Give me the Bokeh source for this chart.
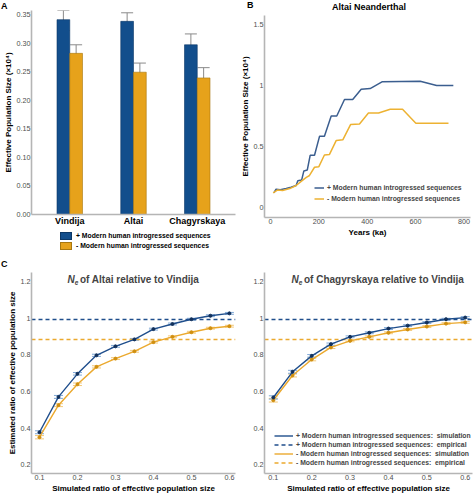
from bokeh.plotting import figure
from bokeh.models import (ColumnDataSource, FactorRange, Range1d, Whisker, TeeHead, Legend,
                          LegendItem, Label, FixedTicker, NumeralTickFormatter, Div)
from bokeh.transform import dodge
from bokeh.layouts import row, column
from bokeh.embed import file_html
from bokeh.resources import INLINE

FONT = "Liberation Sans"
BAR_BLUE = "#124E8C"
BAR_ORANGE = "#E6A21B"
BAR_BLUE_EDGE = "#0b3766"
BAR_ORANGE_EDGE = "#a87710"
LINE_BLUE = "#3B5E8F"
LINE_ORANGE = "#EDB232"
C_BLUE = "#1F4E8C"
C_ORANGE = "#EBA92E"

# ---------------- Panel A data ----------------
populations = ["Vindija", "Altai", "Chagyrskaya"]
ne_with = [0.341, 0.338, 0.297]
ne_with_lo = [0.322, 0.305, 0.277]
ne_with_hi = [0.357, 0.353, 0.316]
ne_without = [0.282, 0.249, 0.239]
ne_without_lo = [0.263, 0.223, 0.220]
ne_without_hi = [0.297, 0.265, 0.257]
label_with = "+ Modern human introgressed sequences"
label_without = "- Modern human introgressed sequences"
a_yticks = [0.0, 0.05, 0.10, 0.15, 0.20, 0.25, 0.30, 0.35]

# ---------------- Panel B data ----------------
title_b = "Altai Neanderthal"
years_with = [14, 23, 40, 65, 85, 106, 113, 129, 138, 152, 164, 182, 203, 223, 251, 274,
              306, 340, 375, 412, 461, 619, 687, 756]
ne_b_with = [0.12, 0.15, 0.145, 0.155, 0.166, 0.18, 0.22, 0.226, 0.30, 0.307, 0.428, 0.428,
             0.585, 0.585, 0.75, 0.75, 0.885, 0.885, 0.97, 0.975, 1.03, 1.035, 1.0, 1.0]
years_without = [11, 30, 50, 80, 106, 127, 148, 160, 182, 200, 223, 244, 272, 299, 331, 368,
                 405, 447, 495, 546, 601, 736]
ne_b_without = [0.12, 0.144, 0.14, 0.155, 0.18, 0.214, 0.247, 0.26, 0.33, 0.335, 0.43, 0.435,
                0.55, 0.555, 0.68, 0.685, 0.775, 0.775, 0.805, 0.805, 0.69, 0.69]
b_xticks = [0, 200, 400, 600, 800]
b_yticks = [0, 0.5, 1, 1.5]

# ---------------- Panel C data ----------------
sim_ratio = [0.1, 0.15, 0.2, 0.25, 0.3, 0.35, 0.4, 0.45, 0.5, 0.55, 0.6]
altai_with = [0.378, 0.571, 0.697, 0.798, 0.847, 0.885, 0.941, 0.969, 0.995, 1.014, 1.027]
altai_with_err = [0.008, 0.008, 0.007, 0.006, 0.005, 0.005, 0.005, 0.005, 0.005, 0.005, 0.005]
altai_without = [0.351, 0.526, 0.640, 0.735, 0.780, 0.820, 0.870, 0.899, 0.924, 0.946, 0.957]
altai_without_err = [0.009, 0.008, 0.007, 0.006, 0.005, 0.005, 0.005, 0.005, 0.005, 0.005, 0.005]
chag_with = [0.568, 0.708, 0.795, 0.859, 0.899, 0.921, 0.944, 0.960, 0.977, 0.995, 1.004]
chag_with_err = [0.009, 0.008, 0.007, 0.006, 0.005, 0.005, 0.005, 0.005, 0.005, 0.005, 0.005]
chag_without = [0.553, 0.688, 0.775, 0.841, 0.877, 0.899, 0.921, 0.939, 0.955, 0.971, 0.978]
chag_without_err = [0.010, 0.008, 0.007, 0.006, 0.005, 0.005, 0.005, 0.005, 0.005, 0.005, 0.005]
empirical_with = 0.991
empirical_without = 0.886
c_xticks = [0.1, 0.2, 0.3, 0.4, 0.5, 0.6]
c_yticks = [0.2, 0.4, 0.6, 0.8, 1.0, 1.2]
c_legend = ["+ Modern human introgressed sequences:  simulation",
            "+ Modern human introgressed sequences:  empirical",
            "- Modern human introgressed sequences:  simulation",
            "- Modern human introgressed sequences:  empirical"]


def style(p):
    p.xgrid.visible = False
    p.ygrid.visible = False
    p.outline_line_color = None
    for ax in p.xaxis + p.yaxis:
        ax.axis_line_color = "#b5b5b5"
        ax.axis_line_width = 1.6
        ax.major_tick_line_color = None
        ax.minor_tick_line_color = None
        ax.major_tick_out = 0
        ax.major_tick_in = 0
        ax.minor_tick_out = 0
        ax.minor_tick_in = 0
        ax.major_label_text_font = FONT
        ax.major_label_text_font_size = "7.2px"
        ax.major_label_text_color = "#4d4d4d"
        ax.major_label_standoff = 1
        ax.axis_label_text_font = FONT
        ax.axis_label_text_font_size = "8px"
        ax.axis_label_text_font_style = "bold"
        ax.axis_label_text_color = "black"
        ax.axis_label_standoff = 1


BASE_CSS = f"position:relative;width:237px;font-family:'{FONT}';color:black;"


def pos_text(t, left, top, size, lh, extra=""):
    return (f"<div style=\"position:absolute;left:{left}px;top:{top}px;font-size:{size}px;"
            f"line-height:{lh}px;font-weight:bold;white-space:nowrap;{extra}\">{t}</div>")


def band(h, inner):
    return Div(text=f"<div style=\"{BASE_CSS}height:{h}px;\">{inner}</div>", width=237, height=h,
               margin=0)


def swatch(left, top, fill, edge):
    return (f"<div style=\"position:absolute;left:{left}px;top:{top}px;width:12px;height:8px;"
            f"background:{fill};border:0.6px solid {edge};box-sizing:border-box;\"></div>")


def legend(items, loc, gw, gh, lh, spacing=0):
    return Legend(items=items, location=loc, orientation="vertical", label_text_font=FONT,
                  label_text_font_size="6.8px", label_text_font_style="bold",
                  glyph_width=gw, glyph_height=gh, label_height=lh, spacing=spacing, padding=0,
                  margin=0, border_line_color=None, background_fill_alpha=0, label_standoff=3)


# ================= Panel A =================
da = band(10, pos_text("A", 1, 0, 9, 9))
pa = figure(width=237, height=218, x_range=FactorRange(factors=populations, range_padding=0.2 / 3),
            y_range=Range1d(0, 0.357), output_backend="svg", toolbar_location=None,
            min_border_left=31, min_border_right=2, min_border_top=0, min_border_bottom=12)
src_a = ColumnDataSource(dict(pop=populations, w=ne_with, wlo=ne_with_lo, whi=ne_with_hi,
                              wo=ne_without, wolo=ne_without_lo, wohi=ne_without_hi))
pa.vbar(x=dodge("pop", -0.1, range=pa.x_range), top="w", width=0.2, source=src_a,
        fill_color=BAR_BLUE, line_color=BAR_BLUE_EDGE, line_width=0.6)
pa.vbar(x=dodge("pop", 0.1, range=pa.x_range), top="wo", width=0.2, source=src_a,
        fill_color=BAR_ORANGE, line_color=BAR_ORANGE_EDGE, line_width=0.6)
for base_off, lo, hi in [(-0.1, "wlo", "whi"), (0.1, "wolo", "wohi")]:
    pa.add_layout(Whisker(source=src_a, base=dodge("pop", base_off, range=pa.x_range),
                          lower=lo, upper=hi, line_color="#8a8a8a", line_width=1,
                          upper_head=TeeHead(size=12, line_color="#8a8a8a", line_width=1),
                          lower_head=TeeHead(size=12, line_color="#7a7a7a", line_width=1)))
style(pa)
pa.yaxis.ticker = FixedTicker(ticks=a_yticks)
pa.yaxis.formatter = NumeralTickFormatter(format="0.00")
pa.yaxis.axis_label = "Effective Population Size (×10⁴)"
pa.xaxis.major_label_text_font_size = "9px"
pa.xaxis.major_label_text_font_style = "bold"
pa.xaxis.major_label_text_color = "black"
pa.xaxis.major_label_standoff = 1

la = band(27, swatch(60, 4, BAR_BLUE, BAR_BLUE_EDGE) + pos_text(label_with, 76, 3, 6.8, 10)
          + swatch(60, 14, BAR_ORANGE, BAR_ORANGE_EDGE) + pos_text(label_without, 76, 13, 6.8, 10))

# ================= Panel B =================
db = band(15, pos_text("B", 10, 0, 9, 10)
          + pos_text(title_b, 132, 0, 9, 14, "transform:translateX(-50%);"))
pb = figure(width=237, height=240, x_range=Range1d(-24.8, 827), y_range=Range1d(-0.082, 1.574),
            output_backend="svg", toolbar_location=None,
            min_border_left=27, min_border_right=4, min_border_top=0, min_border_bottom=38)
rb1 = pb.line(years_with, ne_b_with, line_color=LINE_BLUE, line_width=1.5)
rb2 = pb.line(years_without, ne_b_without, line_color=LINE_ORANGE, line_width=1.5)
style(pb)
pb.xaxis.ticker = FixedTicker(ticks=b_xticks)
pb.yaxis.ticker = FixedTicker(ticks=b_yticks)
pb.yaxis.formatter = NumeralTickFormatter(format="0.[0]")
pb.yaxis.axis_label = "Effective Population Size (×10⁴)"
pb.xaxis.axis_label = "Years (ka)"
pb.add_layout(legend([LegendItem(label=label_with, renderers=[rb1]),
                      LegendItem(label=label_without, renderers=[rb2])],
                     (50, 14), 10, 9, 10, spacing=1))


# ================= Panel C =================
def panel_c(left_border, top_border, height, x_start, x_end, est_w, err_w, est_wo, err_wo,
            subject, show_ylabel):
    p = figure(width=237, height=height, x_range=Range1d(x_start, x_end),
               y_range=Range1d(0.153, 1.25), output_backend="svg", toolbar_location=None,
               min_border_left=left_border, min_border_right=2, min_border_top=top_border,
               min_border_bottom=20)
    e1 = p.hspan(y=[empirical_with], line_color=C_BLUE, line_width=1.3, line_dash="4 3")
    e2 = p.hspan(y=[empirical_without], line_color=C_ORANGE, line_width=1.3, line_dash="4 3")
    src = ColumnDataSource(dict(x=sim_ratio, w=est_w,
                                wlo=[v - e for v, e in zip(est_w, err_w)],
                                whi=[v + e for v, e in zip(est_w, err_w)],
                                wo=est_wo,
                                wolo=[v - e for v, e in zip(est_wo, err_wo)],
                                wohi=[v + e for v, e in zip(est_wo, err_wo)]))
    s2 = p.line("x", "wo", source=src, line_color=C_ORANGE, line_width=1.4)
    p.add_layout(Whisker(source=src, base="x", lower="wolo", upper="wohi", line_color="#f3c878",
                         line_width=1, upper_head=TeeHead(size=9, line_color="#f3c878", line_width=1),
                         lower_head=TeeHead(size=9, line_color="#f3c878", line_width=1)))
    p.scatter("x", "wo", source=src, size=3, color="#d08f10")
    s1 = p.line("x", "w", source=src, line_color=C_BLUE, line_width=1.4)
    p.add_layout(Whisker(source=src, base="x", lower="wlo", upper="whi", line_color="#7fa8d6",
                         line_width=1, upper_head=TeeHead(size=9, line_color="#7fa8d6", line_width=1),
                         lower_head=TeeHead(size=9, line_color="#7fa8d6", line_width=1)))
    p.scatter("x", "w", source=src, size=3, color="#12305a")
    style(p)
    p.xaxis.ticker = FixedTicker(ticks=c_xticks)
    p.xaxis.formatter = NumeralTickFormatter(format="0.[0]")
    p.yaxis.ticker = FixedTicker(ticks=c_yticks)
    p.yaxis.formatter = NumeralTickFormatter(format="0.[0]")
    p.xaxis.axis_label = "Simulated ratio of effective population size"
    if show_ylabel:
        p.yaxis.axis_label = "Estimated ratio of effective population size"
    tx = 36 if show_ylabel else 27
    top = p.y_range.end
    p.add_layout(Label(x=tx, y=top, x_units="screen", y_offset=-7, text="N", text_font=FONT,
                       text_font_size="10px", text_font_style="bold italic", text_baseline="middle"))
    p.add_layout(Label(x=tx + 7.3, y=top, x_units="screen", y_offset=-10, text="e", text_font=FONT,
                       text_font_size="6.5px", text_font_style="bold italic", text_baseline="middle"))
    p.add_layout(Label(x=tx + 12.5, y=top, x_units="screen", y_offset=-7,
                       text=" of " + subject + " relative to Vindija", text_font=FONT,
                       text_font_size="10px", text_font_style="bold", text_baseline="middle"))
    return p, (s1, e1, s2, e2)


dc = band(17, pos_text("C", 1, 5, 9, 9))
pc1, _ = panel_c(31, 0, 223, 0.079, 0.616, altai_with, altai_with_err, altai_without,
                 altai_without_err, "Altai", True)
pc2, rends = panel_c(27, 17, 240, 0.077, 0.619, chag_with, chag_with_err, chag_without,
                     chag_without_err, "Chagyrskaya", False)
pc2.add_layout(legend([LegendItem(label=lab, renderers=[r]) for lab, r in zip(c_legend, rends)],
                      (10, 6), 19, 9, 9))

layout = column(row(column(da, pa, la), column(db, pb)),
                row(column(dc, pc1), pc2))
open("out.html", "w").write(file_html(layout, INLINE))
